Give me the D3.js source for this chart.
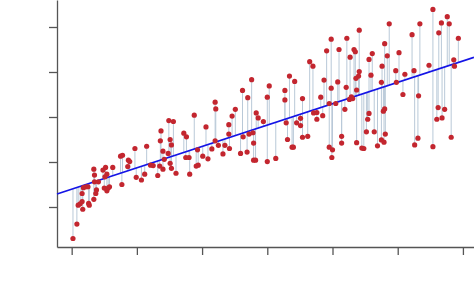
<!DOCTYPE html>
<html lang="en">
<head>
	<meta charset="utf-8">
	<title>Regression residuals</title>
	<script type="text/javascript" src="https://cdn.jsdelivr.net/npm/d3@7/dist/d3.min.js"></script>
</head>
<style type="text/css">
	body{ margin:0; background:#fff; }
	#vizContainer{ width:474px; height:305px; }
</style>
<body>
<div id="vizContainer"></div>
<script type="text/javascript">

// -----------PART 1: THE DATA-----------
// x and y of each observation, read off the picture
var xValues = [0.2,0.8,1.0,1.3,1.6,1.7,1.6,1.8,2.2,2.6,2.7,2.5,3.4,3.7,3.8,3.5,3.5,3.4,4.1,4.8,
	5.2,5.4,5.1,5.0,5.6,5.4,5.8,6.3,7.5,7.8,7.7,8.7,8.9,8.6,9.7,9.9,10.7,11.5,11.2,12.1,
	12.5,13.2,13.6,13.7,14.0,14.0,13.5,14.9,15.6,15.1,15.3,14.8,14.2,15.1,15.3,16.0,17.2,17.6,17.5,18.0,
	18.1,18.8,22.0,22.1,19.3,19.1,19.4,20.1,20.6,20.9,21.5,22.0,22.5,23.2,23.5,24.2,24.1,24.1,25.9,26.3,
	26.9,27.2,27.8,27.9,27.9,28.2,29.4,30.0,31.3,32.9,33.1,33.8,34.0,34.5,35.1,35.4,36.2,37.6,39.5,40.0,
	39.9,24.6,25.1,26.2,27.0,27.6,28.3,28.6,30.0,30.3,32.7,32.7,33.4,34.2,35.4,35.1,36.5,37.0,37.1,37.6,
	38.5,38.7,38.2,39.1,39.8,39.8,39.5,40.5,40.8,41.0,41.9,42.1,42.2,42.7,42.6,42.9,43.1,43.3,43.5,43.6,
	43.7,44.0,44.1,44.1,45.4,45.6,45.6,45.9,46.1,47.5,47.6,47.8,48.0,48.0,48.4,48.7,49.7,49.8,50.2,50.8,
	51.1,52.2,52.5,53.2,53.4,54.8,55.4,56.0,56.2,56.3,56.7,56.8,57.2,57.6,57.9,58.6,58.7,59.3,41.4,41.4,
	43.7,44.5,44.8,45.2,46.4,46.9,47.5,47.9,48.1,52.6,53.1,55.4,58.2];
var yValues = [-7.0,-3.8,0.4,0.7,1.2,-0.5,3.0,4.3,4.5,0.8,0.4,4.5,1.7,3.0,3.8,5.6,7.1,8.4,5.6,8.2,
	8.8,7.3,6.7,4.2,4.2,3.6,4.5,8.8,11.3,11.5,5.0,10.4,10.1,9.0,13.0,6.6,6.0,13.5,7.3,9.3,
	9.2,7.0,14.7,16.9,12.4,8.4,9.1,19.2,19.0,15.0,13.8,11.9,10.6,9.7,8.6,7.5,16.4,15.6,11.0,11.0,
	7.3,20.4,23.3,21.8,12.7,9.1,9.3,11.3,17.8,10.7,12.9,14.7,13.7,11.8,13.7,13.0,16.2,18.3,11.9,15.6,
	12.2,16.2,16.5,14.2,10.4,10.4,19.0,10.1,10.8,18.7,15.0,13.3,13.3,18.7,18.1,15.5,15.7,19.5,13.3,12.7,
	11.0,20.2,21.7,25.9,24.3,28.3,20.9,19.8,24.4,26.9,25.9,23.8,29.1,27.9,24.1,19.7,32.3,31.3,20.9,21.0,
	20.3,28.2,24.4,34.7,37.3,26.4,23.0,23.0,27.8,35.0,21.7,26.6,37.5,33.3,23.9,24.5,24.1,35.0,34.5,28.6,
	26.0,29.1,30.1,39.3,19.5,20.8,32.8,29.3,34.1,27.7,31.3,21.3,21.8,36.3,33.6,40.7,30.3,27.7,34.3,25.0,
	29.5,38.3,30.3,24.7,40.7,31.5,43.9,19.5,22.1,38.7,40.9,19.8,21.7,42.3,40.7,32.7,31.3,37.5,15.7,14.2,
	14.3,13.1,13.0,16.7,16.7,13.6,14.9,14.4,16.2,13.8,15.3,13.4,15.5];

// fitted line y = intercept + slope * x
var intercept = 3.96;
var slope = 0.475;

// tick positions (the tick labels are not shown)
var xTicks = [0,10,20,30,40,50,60];
var yTicks = [0,10,20,30,40];

// -----------PART 2: SETTING UP THE CANVAS-----------
var width = 474;
var height = 305;

var svgCanvas = d3.select("#vizContainer").append("svg")
	.attr("width", width)
	.attr("height", height);

var xScale = d3.scaleLinear()
	.domain([-2.25, 61.7])
	.range([57, 474]);
var yScale = d3.scaleLinear()
	.domain([-8.89, 46])
	.range([247, 0]);

var fit = function(x){ return intercept + slope*x; };

var data = xValues.map(function(x,i){ return {x:x, y:yValues[i]}; });

// -----------PART 3: DRAWING ON THE CANVAS-----------
// axes
var xAxis = svgCanvas.append("g")
	.attr("transform", "translate(0,247)")
	.call(d3.axisBottom(xScale).tickValues(xTicks).tickSize(8).tickSizeOuter(0).tickFormat(""));
var yAxis = svgCanvas.append("g")
	.attr("transform", "translate(57,0)")
	.call(d3.axisLeft(yScale).tickValues(yTicks).tickSize(8).tickSizeOuter(0).tickFormat(""));
svgCanvas.selectAll(".domain, .tick line")
	.attr("stroke", "#555")
	.attr("stroke-width", 1.3);

// residual lines
svgCanvas.selectAll("line.resid")
	.data(data)
	.enter()
	.append("line")
	.attr("class", "resid")
	.attr("x1", function(d){ return xScale(d.x); })
	.attr("x2", function(d){ return xScale(d.x); })
	.attr("y1", function(d){ return yScale(d.y); })
	.attr("y2", function(d){ return yScale(fit(d.x)); })
	.attr("stroke", "#b9c9d8")
	.attr("stroke-width", 1);

// regression line
var xd = xScale.domain();
svgCanvas.append("line")
	.attr("x1", xScale(xd[0]))
	.attr("x2", xScale(xd[1]))
	.attr("y1", yScale(fit(xd[0])))
	.attr("y2", yScale(fit(xd[1])))
	.attr("stroke", "#1414e6")
	.attr("stroke-width", 1.8);

// points
svgCanvas.selectAll("circle.pt")
	.data(data)
	.enter()
	.append("circle")
	.attr("class", "pt")
	.attr("cx", function(d){ return xScale(d.x); })
	.attr("cy", function(d){ return yScale(d.y); })
	.attr("r", 2.6)
	.attr("fill", "#c3262f");

</script>
</body>
</html>
